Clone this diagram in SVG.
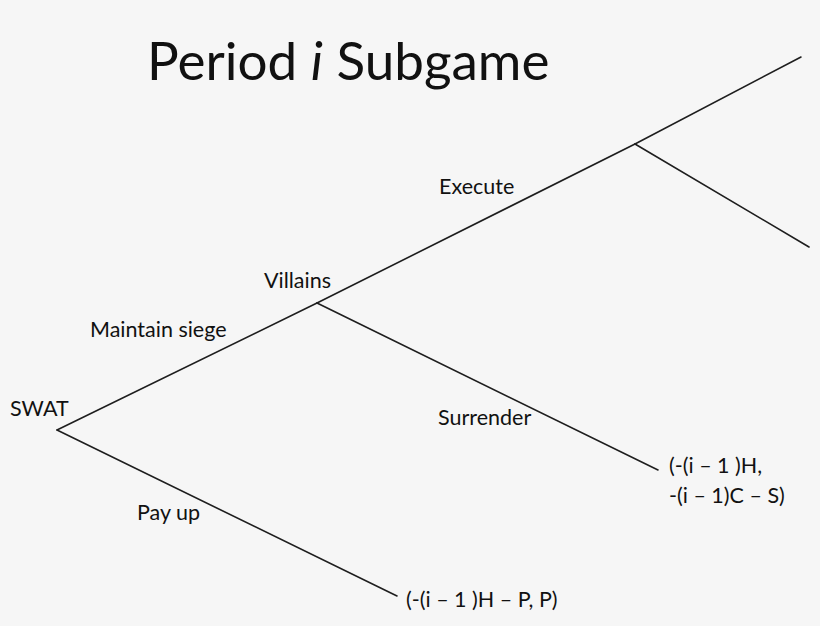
<svg xmlns="http://www.w3.org/2000/svg" width="820" height="626" viewBox="0 0 820 626">
<style>
text{font-family:Lato,"Open Sans","Liberation Sans",sans-serif;fill:#111;font-size:21.5px}
.t{font-size:53px}
line{stroke:#1e1e1e;stroke-width:1.6;stroke-linecap:round}
</style>
<rect width="820" height="626" fill="#f6f6f6"/>
<text class="t" x="147" y="80">Period <tspan font-style="italic">i</tspan> Subgame</text>
<g id="connectors">
<line x1="57" y1="430" x2="317" y2="303"/>
<line x1="317" y1="303" x2="635" y2="144"/>
<line x1="635" y1="144" x2="801" y2="57"/>
<line x1="635" y1="144" x2="809" y2="247"/>
<line x1="317" y1="303" x2="658" y2="470"/>
<line x1="57" y1="430" x2="397" y2="596"/>
</g>
<g id="swat"><text x="10" y="416">SWAT</text></g>
<g id="villains"><text x="264" y="288">Villains</text></g>
<g id="label-maintain"><text x="90" y="337">Maintain siege</text></g>
<g id="label-execute"><text x="439" y="194">Execute</text></g>
<g id="label-surrender"><text x="438" y="425">Surrender</text></g>
<g id="label-payup"><text x="137" y="520">Pay up</text></g>
<g id="payoff-surrender"><text x="669" y="473">(-(i – 1 )H,</text><text x="669" y="503">-(i – 1)C – S)</text></g>
<g id="payoff-payup"><text x="406" y="607">(-(i – 1 )H – P, P)</text></g>
</svg>
